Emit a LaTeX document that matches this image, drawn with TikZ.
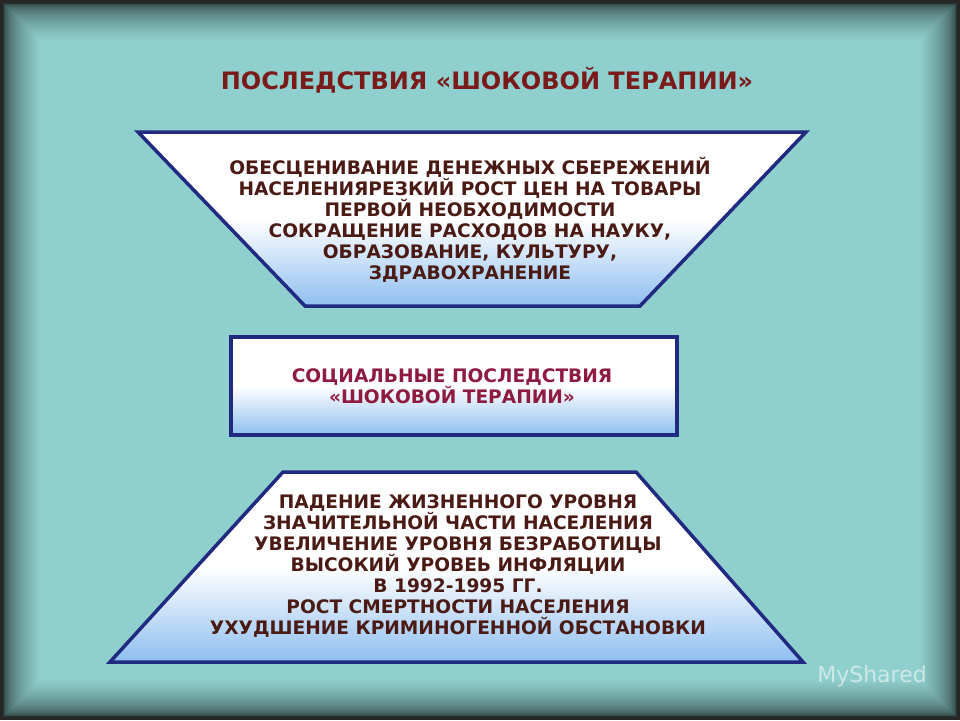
\documentclass[tikz,border=0pt]{standalone}
\usepackage{fontspec}
\setmainfont{DejaVu Sans}
\begin{document}
\begin{tikzpicture}[x=1pt,y=-1pt,
  box/.style={draw=navy,line width=3.5pt,top color=white,bottom color=lblue,middle color=white},
  body/.style={font=\bfseries\fontsize{18.6}{21}\selectfont,text=brn,align=center}]
\definecolor{navy}{HTML}{1F2A80}
\definecolor{lblue}{HTML}{8EBEF0}
\definecolor{teal1}{HTML}{8FCFCD}
\definecolor{brn}{HTML}{4A1A14}
\definecolor{dred}{HTML}{7A1A1A}
\definecolor{mred}{HTML}{8E1A40}
\useasboundingbox (0,0) rectangle (960,720);
\fill[black!85] (0,0) rectangle (960,720);
\foreach \i in {3,...,40}{
  \pgfmathsetmacro{\c}{min(100,25+75*sqrt((\i-3)/37))}
  \fill[teal1!\c!black] (\i,\i) rectangle (960-\i,720-\i);}
\node[font=\bfseries\fontsize{24}{26}\selectfont,text=dred] (title) at (487,80) {ПОСЛЕДСТВИЯ «ШОКОВОЙ ТЕРАПИИ»};
\draw[box] (138,132) -- (806,132) -- (640,306) -- (305,306) -- cycle;
\node[body] (t1) at (470,220) {ОБЕСЦЕНИВАНИЕ ДЕНЕЖНЫХ СБЕРЕЖЕНИЙ\\НАСЕЛЕНИЯРЕЗКИЙ РОСТ ЦЕН НА ТОВАРЫ\\ПЕРВОЙ НЕОБХОДИМОСТИ\\СОКРАЩЕНИЕ РАСХОДОВ НА НАУКУ,\\ОБРАЗОВАНИЕ, КУЛЬТУРУ,\\ЗДРАВОХРАНЕНИЕ};
\draw[box] (231,337) rectangle (677,435);
\node[body,text=mred] (t2) at (452,386) {СОЦИАЛЬНЫЕ ПОСЛЕДСТВИЯ\\«ШОКОВОЙ ТЕРАПИИ»};
\draw[box] (283,472) -- (636,472) -- (803,662) -- (110,662) -- cycle;
\node[body] (t3) at (458,566) {ПАДЕНИЕ ЖИЗНЕННОГО УРОВНЯ\\ЗНАЧИТЕЛЬНОЙ ЧАСТИ НАСЕЛЕНИЯ\\УВЕЛИЧЕНИЕ УРОВНЯ БЕЗРАБОТИЦЫ\\ВЫСОКИЙ УРОВЕЬ ИНФЛЯЦИИ\\В 1992-1995 ГГ.\\РОСТ СМЕРТНОСТИ НАСЕЛЕНИЯ\\УХУДШЕНИЕ КРИМИНОГЕННОЙ ОБСТАНОВКИ};
\node[font=\fontsize{22}{24}\selectfont,text=white,opacity=0.55] (wm) at (872,676) {MyShared};
\end{tikzpicture}
\end{document}
